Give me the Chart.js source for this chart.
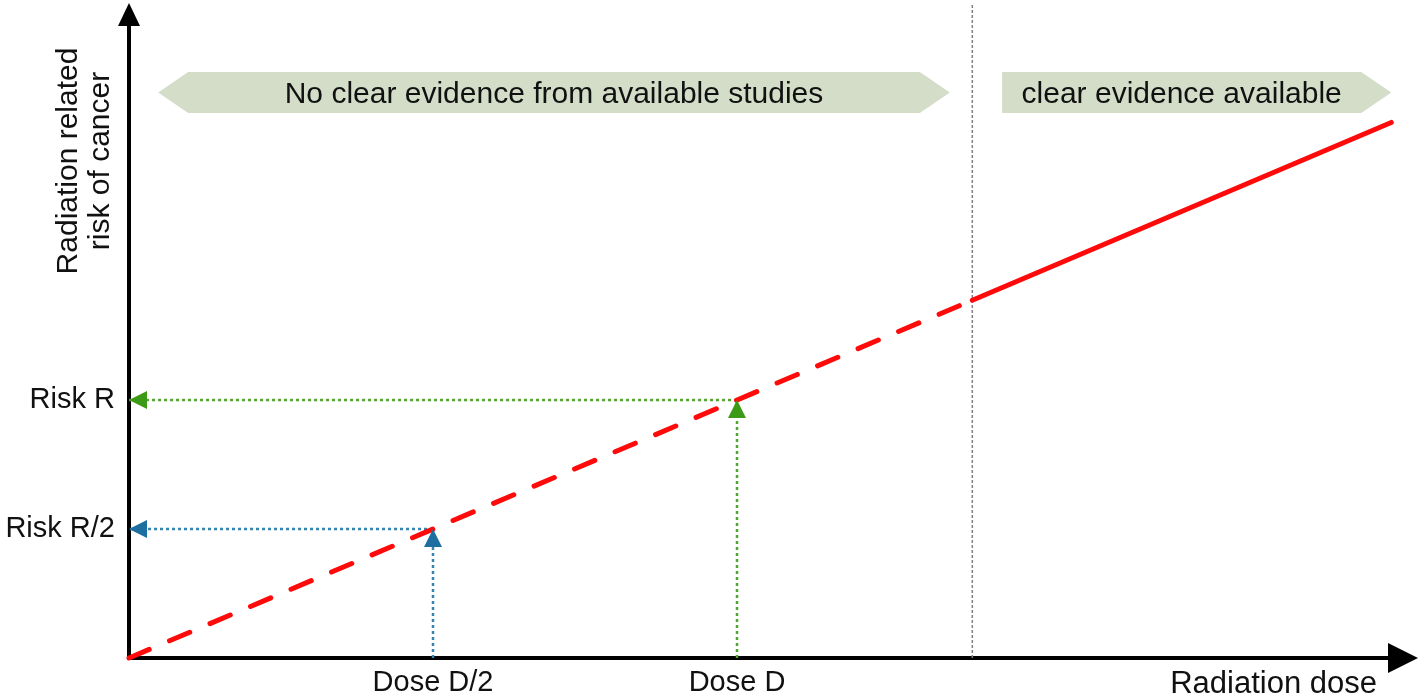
<!DOCTYPE html>
<html>
<head>
<meta charset="utf-8">
<script src="https://cdn.jsdelivr.net/npm/chart.js@4.4.1/dist/chart.umd.min.js"></script>
<style>
  html, body { margin: 0; padding: 0; background: #fff; }
  #wrap { width: 1425px; height: 700px; }
</style>
</head>
<body>
<div id="wrap"><canvas id="chart" width="1425" height="700"></canvas></div>
<script>
// dose in units of D, risk in units of R
const doseTicks = [0.5, 1];
const doseTickLabels = ['Dose D/2', 'Dose D'];
const riskTicks = [0.5, 1];
const riskTickLabels = ['Risk R/2', 'Risk R'];

const evidenceThreshold = 1.387;
const extrapolatedDose = [0, 1.387];
const extrapolatedRisk = [0, 1.387];
const observedDose = [1.387, 2.076];
const observedRisk = [1.387, 2.076];

const bannerLabels = ['No clear evidence from available studies', 'clear evidence available'];
const bannerFrom = [0.048, 1.436];
const bannerTo = [1.350, 2.076];

const doseMax = 2.12;
const riskMax = 2.539;

const FONT = '"Liberation Sans", Arial, sans-serif';

function pts(xs, ys) {
    return xs.map((x, i) => ({ x: x, y: ys[i] }));
}

const axesPlugin = {
    id: 'axes',
    beforeDatasetsDraw(chart) {
        const ctx = chart.ctx;
        const a = chart.chartArea;
        ctx.save();
        ctx.strokeStyle = '#000';
        ctx.fillStyle = '#000';
        ctx.lineWidth = 4;
        ctx.beginPath();
        ctx.moveTo(a.left, a.bottom + 2);
        ctx.lineTo(a.left, a.top + 20);
        ctx.moveTo(a.left - 2, a.bottom);
        ctx.lineTo(a.right - 26, a.bottom);
        ctx.stroke();
        // arrow heads
        ctx.beginPath();
        ctx.moveTo(a.left, a.top);
        ctx.lineTo(a.left - 11, a.top + 23);
        ctx.lineTo(a.left + 11, a.top + 23);
        ctx.closePath();
        ctx.fill();
        ctx.beginPath();
        ctx.moveTo(a.right, a.bottom);
        ctx.lineTo(a.right - 30, a.bottom - 15);
        ctx.lineTo(a.right - 30, a.bottom + 15);
        ctx.closePath();
        ctx.fill();

        // evidence banners
        const xs = chart.scales.x;
        const top = a.top + 69, h = 41, tip = 30;
        bannerLabels.forEach((label, i) => {
            const x0 = xs.getPixelForValue(bannerFrom[i]);
            const x1 = xs.getPixelForValue(bannerTo[i]);
            const leftTip = i === 0;
            ctx.fillStyle = '#d3ddc8';
            ctx.beginPath();
            if (leftTip) {
                ctx.moveTo(x0, top + h / 2);
                ctx.lineTo(x0 + tip, top);
            } else {
                ctx.moveTo(x0, top + h);
                ctx.lineTo(x0, top);
            }
            ctx.lineTo(x1 - tip, top);
            ctx.lineTo(x1, top + h / 2);
            ctx.lineTo(x1 - tip, top + h);
            if (leftTip) ctx.lineTo(x0 + tip, top + h);
            ctx.closePath();
            ctx.fill();
            ctx.fillStyle = '#111';
            ctx.font = '30px ' + FONT;
            ctx.textAlign = 'center';
            ctx.textBaseline = 'alphabetic';
            ctx.fillText(label, leftTip ? (x0 + x1) / 2 : (x0 + x1 - tip) / 2, top + 31);
        });
        ctx.restore();
    },
    afterDatasetsDraw(chart) {
        const ctx = chart.ctx;
        chart.data.datasets.forEach((ds, i) => {
            if (!ds.arrowColor) return;
            const p = chart.getDatasetMeta(i).data;
            const tipPt = p[p.length - 1], prev = p[p.length - 2];
            let dx = tipPt.x - prev.x, dy = tipPt.y - prev.y;
            const len = Math.hypot(dx, dy);
            dx /= len; dy /= len;
            const l = 18, w = 9;
            const bx = tipPt.x - dx * l, by = tipPt.y - dy * l;
            ctx.save();
            ctx.fillStyle = ds.arrowColor;
            ctx.beginPath();
            ctx.moveTo(tipPt.x, tipPt.y);
            ctx.lineTo(bx - dy * w, by + dx * w);
            ctx.lineTo(bx + dy * w, by - dx * w);
            ctx.closePath();
            ctx.fill();
            ctx.restore();
        });
    },
    afterDraw(chart) {
        const ctx = chart.ctx;
        ctx.save();
        ctx.fillStyle = '#111';
        ctx.font = '30px ' + FONT;
        ctx.textAlign = 'center';
        ctx.textBaseline = 'middle';
        ctx.translate(69, 161);
        ctx.rotate(-Math.PI / 2);
        ctx.fillText('Radiation related', 0, 0);
        ctx.fillText('risk of cancer', 0, 32);
        ctx.restore();

        ctx.save();
        ctx.fillStyle = '#111';
        ctx.font = '31px ' + FONT;
        ctx.textAlign = 'right';
        ctx.textBaseline = 'alphabetic';
        ctx.fillText('Radiation dose', 1377, 693);
        ctx.restore();
    }
};

const dotted = { borderWidth: 2.5, borderDash: [3, 3], pointRadius: 0, fill: false };

new Chart(document.getElementById('chart').getContext('2d'), {
    type: 'line',
    data: {
        datasets: [
            {
                label: 'extrapolated',
                data: pts(extrapolatedDose, extrapolatedRisk),
                borderColor: '#ff0a0a',
                borderWidth: 5,
                borderDash: [22, 22],
                borderCapStyle: 'round',
                pointRadius: 0
            },
            {
                label: 'observed',
                data: pts(observedDose, observedRisk),
                borderColor: '#ff0a0a',
                borderWidth: 5,
                borderCapStyle: 'round',
                pointRadius: 0
            },
            Object.assign({
                label: 'risk R',
                data: [{ x: doseTicks[1], y: riskTicks[1] }, { x: 0, y: riskTicks[1] }],
                borderColor: '#55a535',
                arrowColor: '#3d9a16'
            }, dotted),
            Object.assign({
                label: 'dose D',
                data: [{ x: doseTicks[1], y: 0 }, { x: doseTicks[1], y: riskTicks[1] }],
                borderColor: '#55a535',
                arrowColor: '#3d9a16'
            }, dotted),
            Object.assign({
                label: 'risk R/2',
                data: [{ x: doseTicks[0], y: riskTicks[0] }, { x: 0, y: riskTicks[0] }],
                borderColor: '#3585b0',
                arrowColor: '#1d6fa0'
            }, dotted),
            Object.assign({
                label: 'dose D/2',
                data: [{ x: doseTicks[0], y: 0 }, { x: doseTicks[0], y: riskTicks[0] }],
                borderColor: '#3585b0',
                arrowColor: '#1d6fa0'
            }, dotted),
            {
                label: 'threshold',
                data: [{ x: evidenceThreshold, y: 0 }, { x: evidenceThreshold, y: riskMax }],
                borderColor: '#808080',
                borderWidth: 1.5,
                borderDash: [3, 2],
                pointRadius: 0
            }
        ]
    },
    options: {
        responsive: false,
        animation: false,
        events: [],
        clip: false,
        layout: { padding: { top: 3, right: 7, left: 0, bottom: 0 } },
        plugins: {
            legend: { display: false },
            tooltip: { enabled: false }
        },
        scales: {
            x: {
                type: 'linear',
                min: 0,
                max: doseMax,
                grid: { display: false, drawTicks: false },
                border: { display: false },
                afterBuildTicks: s => { s.ticks = doseTicks.map(v => ({ value: v })); },
                afterFit: s => { s.height = 42; s.paddingLeft = 0; s.paddingRight = 0; },
                ticks: {
                    autoSkip: false,
                    maxRotation: 0,
                    padding: 8,
                    color: '#111',
                    font: { family: FONT, size: 29 },
                    callback: (v, i) => doseTickLabels[i]
                }
            },
            y: {
                type: 'linear',
                min: 0,
                max: riskMax,
                grid: { display: false, drawTicks: false },
                border: { display: false },
                afterBuildTicks: s => { s.ticks = riskTicks.map(v => ({ value: v })); },
                afterFit: s => { s.width = 129; s.paddingTop = 0; s.paddingBottom = 0; },
                ticks: {
                    autoSkip: false,
                    padding: 14,
                    color: '#111',
                    font: { family: FONT, size: 29 },
                    callback: (v, i) => riskTickLabels[i]
                }
            }
        }
    },
    plugins: [axesPlugin]
});
</script>
</body>
</html>
